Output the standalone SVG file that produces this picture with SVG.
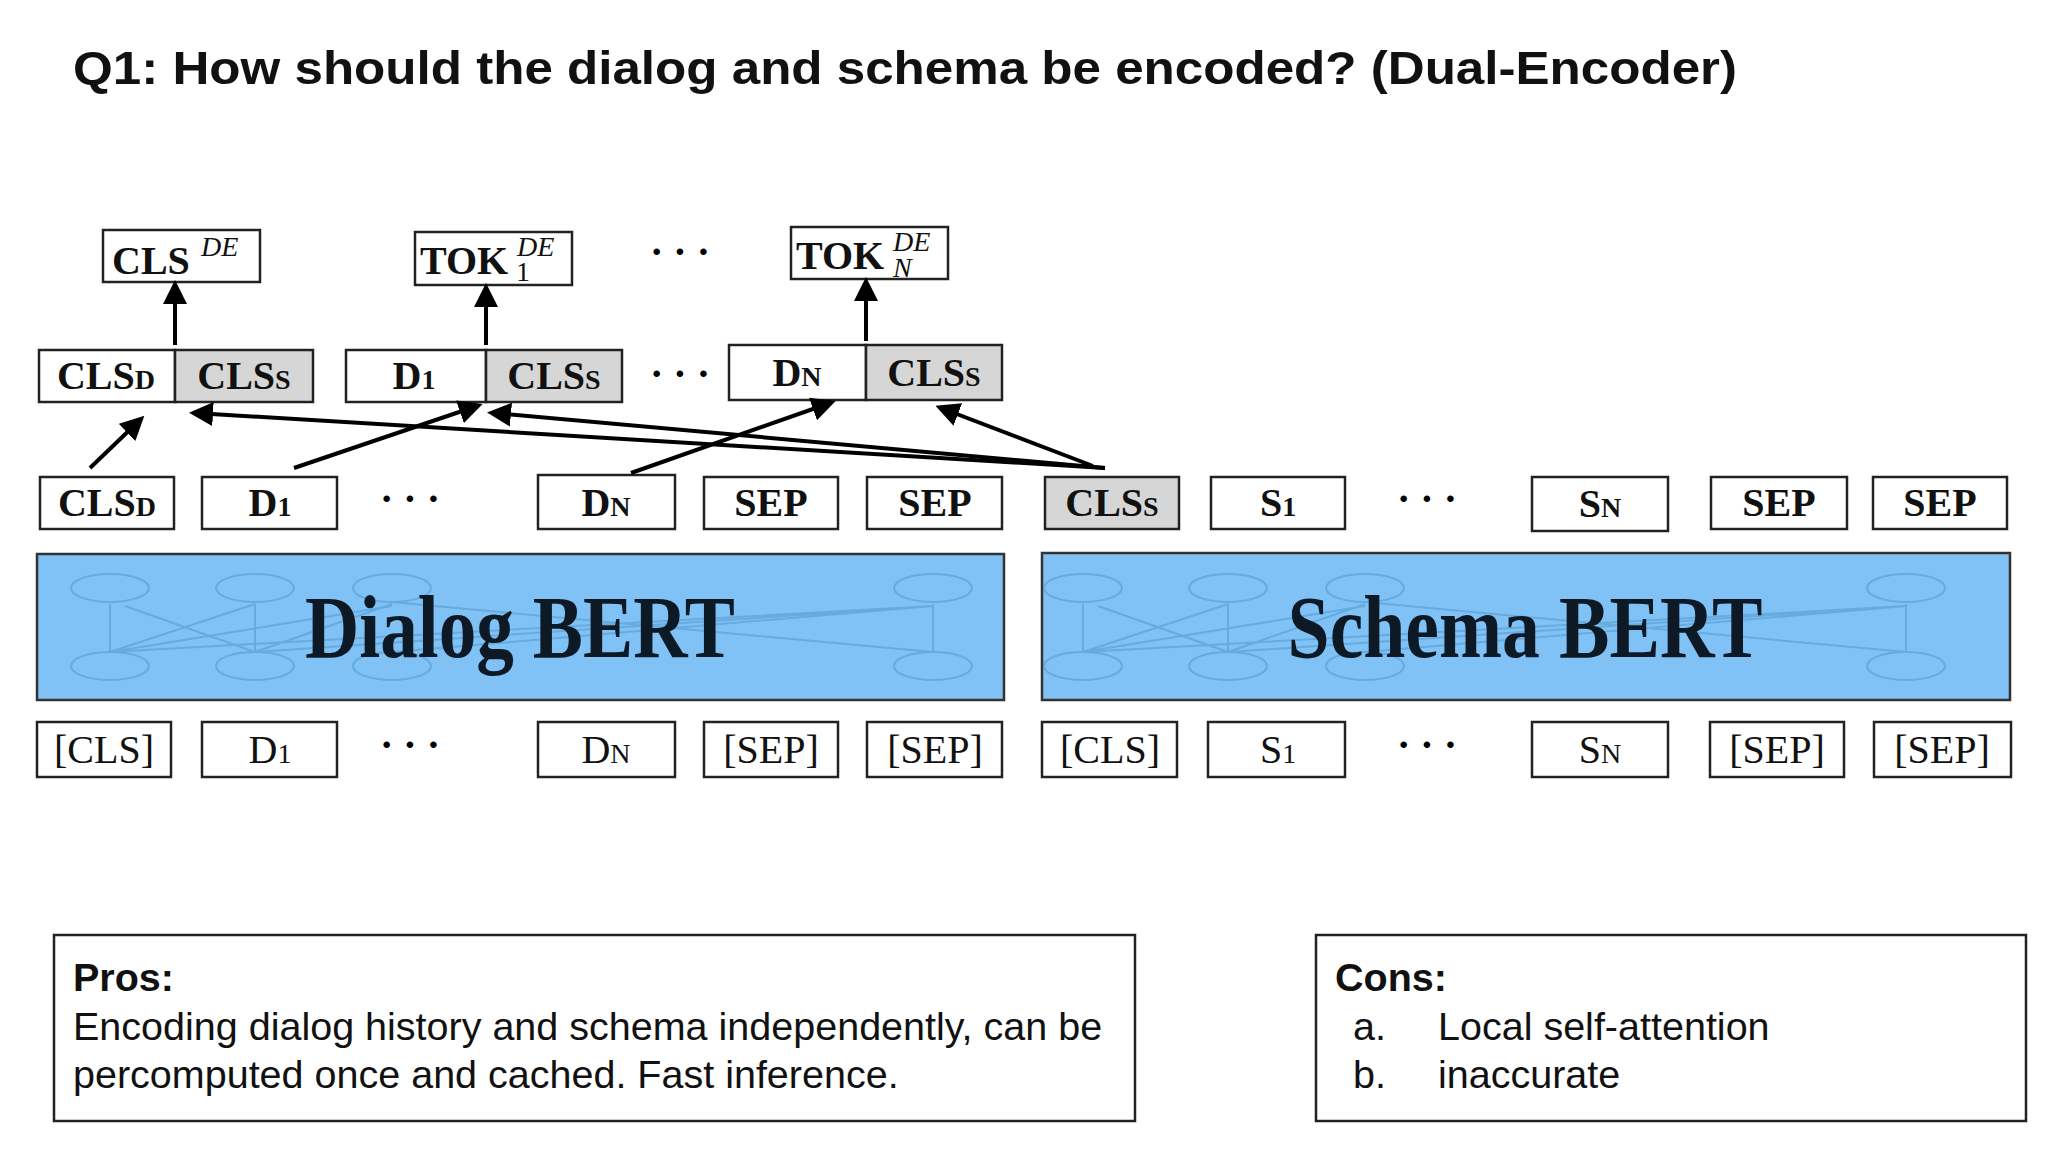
<svg xmlns="http://www.w3.org/2000/svg" width="2048" height="1152" viewBox="0 0 2048 1152">
<style>
.b{fill:#fff;stroke:#222;stroke-width:2.5}
.g{fill:#d6d6d6;stroke:#222;stroke-width:2.5}
.t{font-family:"Liberation Serif",serif;font-weight:bold;font-size:40px;text-anchor:middle;fill:#111}
.ts{font-family:"Liberation Serif",serif;font-weight:bold;font-size:40px;fill:#111}
.n{font-family:"Liberation Serif",serif;font-size:40px;text-anchor:middle;fill:#111}
.s{font-size:28px}
.it{font-family:"Liberation Serif",serif;font-style:italic;font-size:28px;fill:#111}
.c{stroke:#000;stroke-width:4;fill:none;marker-end:url(#ah)}
.bert{fill:#80c2f5;stroke:#333;stroke-width:2.5}
.net{fill:none;stroke:#5fa6dc;stroke-width:2;opacity:.8}
.big{font-family:"Liberation Serif",serif;font-weight:bold;font-size:88px;fill:#0d1a26;text-anchor:middle}
.p{font-family:"Liberation Sans",Arial,sans-serif;font-size:39.5px;fill:#111}
.dots{font-family:"Liberation Serif",serif;font-weight:bold;font-size:40px;text-anchor:middle}
</style>
<defs>
<marker id="ah" markerWidth="6" markerHeight="6" refX="4.5" refY="3" orient="auto" markerUnits="strokeWidth"><path d="M0,0 L6,3 L0,6 Z" fill="#000"/></marker>
<g id="netg" class="net">
<ellipse cx="73" cy="34" rx="39" ry="14"/><ellipse cx="218" cy="34" rx="39" ry="14"/><ellipse cx="355" cy="34" rx="39" ry="14"/><ellipse cx="896" cy="34" rx="39" ry="14"/>
<ellipse cx="73" cy="112" rx="39" ry="14"/><ellipse cx="218" cy="112" rx="39" ry="14"/><ellipse cx="355" cy="112" rx="39" ry="14"/><ellipse cx="896" cy="112" rx="39" ry="14"/>
<path d="M73,98 V50 M218,98 V50 M896,98 V50 M73,98 L218,50 M218,98 L88,52 M73,98 L355,52 M73,98 L896,52 M218,98 L896,52 M355,98 L896,52 M355,48 L896,98 M218,98 L355,50"/>
</g>
</defs>
<text x="73" y="84" font-family="Liberation Sans,Arial,sans-serif" font-weight="bold" font-size="46" fill="#111" textLength="1664" lengthAdjust="spacingAndGlyphs">Q1: How should the dialog and schema be encoded? (Dual-Encoder)</text>

<g id="out-cls"><rect class="b" x="103" y="230" width="157" height="52"/><text class="ts" x="112" y="274">CLS</text><text class="it" x="201" y="256">DE</text></g>
<g id="out-tok1"><rect class="b" x="415" y="232" width="157" height="53"/><text class="ts" x="420" y="274">TOK</text><text class="it" x="517" y="256">DE</text><text class="n s" x="523" y="281">1</text></g>
<text class="dots" x="680" y="265">· · ·</text>
<g id="out-tokn"><rect class="b" x="791" y="227" width="157" height="52"/><text class="ts" x="796" y="269">TOK</text><text class="it" x="893" y="251">DE</text><text class="it" x="893" y="277">N</text></g>

<g id="pair1"><rect class="b" x="39" y="350" width="136" height="52"/><rect class="g" x="175" y="350" width="138" height="52"/><text class="t" x="106" y="389">CLS<tspan class="s">D</tspan></text><text class="t" x="244" y="389">CLS<tspan class="s">S</tspan></text></g>
<g id="pair2"><rect class="b" x="346" y="350" width="140" height="52"/><rect class="g" x="486" y="350" width="136" height="52"/><text class="t" x="414" y="389">D<tspan class="s">1</tspan></text><text class="t" x="554" y="389">CLS<tspan class="s">S</tspan></text></g>
<text class="dots" x="680" y="387">· · ·</text>
<g id="pair3"><rect class="b" x="729" y="345" width="137" height="55"/><rect class="g" x="866" y="345" width="136" height="55"/><text class="t" x="797" y="386">D<tspan class="s">N</tspan></text><text class="t" x="934" y="386">CLS<tspan class="s">S</tspan></text></g>

<g id="tokens">
<g id="tk1"><rect class="b" x="40" y="477" width="134" height="52"/><text class="t" x="107" y="516">CLS<tspan class="s">D</tspan></text></g>
<g id="tk2"><rect class="b" x="202" y="477" width="135" height="52"/><text class="t" x="270" y="516">D<tspan class="s">1</tspan></text></g>
<text class="dots" x="410" y="512">· · ·</text>
<g id="tk3"><rect class="b" x="538" y="475" width="137" height="54"/><text class="t" x="606" y="516">D<tspan class="s">N</tspan></text></g>
<g id="tk4"><rect class="b" x="704" y="477" width="134" height="52"/><text class="t" x="771" y="516">SEP</text></g>
<g id="tk5"><rect class="b" x="867" y="477" width="135" height="52"/><text class="t" x="935" y="516">SEP</text></g>
<g id="tk6"><rect class="g" x="1045" y="477" width="134" height="52"/><text class="t" x="1112" y="516">CLS<tspan class="s">S</tspan></text></g>
<g id="tk7"><rect class="b" x="1211" y="477" width="134" height="52"/><text class="t" x="1278" y="516">S<tspan class="s">1</tspan></text></g>
<text class="dots" x="1427" y="512">· · ·</text>
<g id="tk8"><rect class="b" x="1532" y="477" width="136" height="54"/><text class="t" x="1600" y="517">S<tspan class="s">N</tspan></text></g>
<g id="tk9"><rect class="b" x="1711" y="477" width="136" height="52"/><text class="t" x="1779" y="516">SEP</text></g>
<g id="tk10"><rect class="b" x="1873" y="477" width="134" height="52"/><text class="t" x="1940" y="516">SEP</text></g>
</g>

<g id="dialog-bert"><rect class="bert" x="37" y="554" width="967" height="146"/><use href="#netg" x="37" y="554"/><text class="big" x="520" y="657" textLength="430" lengthAdjust="spacingAndGlyphs">Dialog BERT</text></g>
<g id="schema-bert"><rect class="bert" x="1042" y="553" width="968" height="147"/><use href="#netg" x="1010" y="554"/><text class="big" x="1525" y="657" textLength="475" lengthAdjust="spacingAndGlyphs">Schema BERT</text></g>

<g id="inputs">
<g><rect class="b" x="37" y="722" width="134" height="55"/><text class="n" x="104" y="763">[CLS]</text></g>
<g><rect class="b" x="202" y="722" width="135" height="55"/><text class="n" x="270" y="763">D<tspan class="s">1</tspan></text></g>
<text class="dots" x="410" y="758">· · ·</text>
<g><rect class="b" x="538" y="722" width="137" height="55"/><text class="n" x="606" y="763">D<tspan class="s">N</tspan></text></g>
<g><rect class="b" x="704" y="722" width="134" height="55"/><text class="n" x="771" y="763">[SEP]</text></g>
<g><rect class="b" x="867" y="722" width="135" height="55"/><text class="n" x="935" y="763">[SEP]</text></g>
<g><rect class="b" x="1042" y="722" width="135" height="55"/><text class="n" x="1110" y="763">[CLS]</text></g>
<g><rect class="b" x="1208" y="722" width="137" height="55"/><text class="n" x="1278" y="763">S<tspan class="s">1</tspan></text></g>
<text class="dots" x="1427" y="758">· · ·</text>
<g><rect class="b" x="1532" y="722" width="136" height="55"/><text class="n" x="1600" y="763">S<tspan class="s">N</tspan></text></g>
<g><rect class="b" x="1710" y="722" width="134" height="55"/><text class="n" x="1777" y="763">[SEP]</text></g>
<g><rect class="b" x="1874" y="722" width="137" height="55"/><text class="n" x="1942" y="763">[SEP]</text></g>
</g>

<g id="connectors">
<path class="c" d="M175,345 V286"/>
<path class="c" d="M486,345 V289"/>
<path class="c" d="M866,341 V283"/>
<path class="c" d="M90,468 L140,420"/>
<path class="c" d="M294,468 L477,406"/>
<path class="c" d="M631,473 L830,403"/>
<path class="c" d="M1105,468 L195,413"/>
<path class="c" d="M1105,468 L493,413"/>
<path class="c" d="M1093,466 L941,408"/>
</g>

<g id="pros"><rect x="54" y="935" width="1081" height="186" fill="#fff" stroke="#222" stroke-width="2.5"/>
<text class="p" x="73" y="991" font-weight="bold">Pros:</text>
<text class="p" x="73" y="1040">Encoding dialog history and schema independently, can be</text>
<text class="p" x="73" y="1088">percomputed once and cached. Fast inference.</text></g>
<g id="cons"><rect x="1316" y="935" width="710" height="186" fill="#fff" stroke="#222" stroke-width="2.5"/>
<text class="p" x="1335" y="991" font-weight="bold">Cons:</text>
<text class="p" x="1353" y="1040">a.</text><text class="p" x="1438" y="1040">Local self-attention</text>
<text class="p" x="1353" y="1088">b.</text><text class="p" x="1438" y="1088">inaccurate</text></g>
</svg>
